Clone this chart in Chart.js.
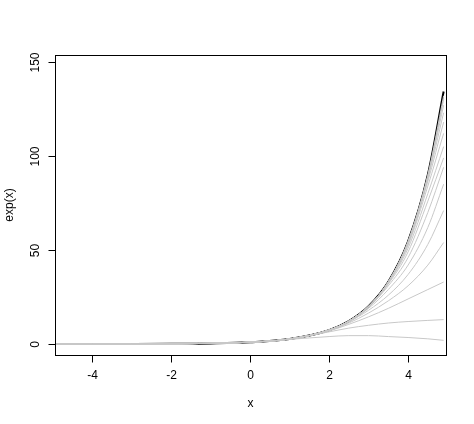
<!DOCTYPE html>
<html>
<head>
<script src="https://cdn.jsdelivr.net/npm/chart.js@4"></script>
<style>body{margin:0;background:#fff}#wrap{width:474px;height:424px}</style>
</head>
<body>
<div id="wrap"><canvas id="c"></canvas></div>
<script>
// x positions sampled along the curves
var xs = [-5, -4, -3, -2, -1, 0, 1, 2, 2.5, 3, 3.5, 4, 4.5, 4.9];
var expY = [0.01, 0.02, 0.05, 0.14, 0.37, 1, 2.72, 7.39, 12.2, 20.1, 33.1, 54.6, 90, 134.3];
// grey approximations
var grey = [
  [0, 0, 0, 0.1, 0.4, 1, 2.5, 4, 4.5, 4.5, 4, 3.5, 2.8, 2],
  [0, 0, 0, 0.1, 0.4, 1, 2.7, 6.5, 8.5, 10, 11.2, 12, 12.6, 13],
  [0, 0, 0, 0.1, 0.4, 1, 2.7, 7, 10.5, 14.5, 19, 24, 29, 33],
  [0, 0, 0, 0.1, 0.4, 1, 2.7, 7.2, 11.2, 16.5, 23, 31, 42, 54],
  [0, 0, 0, 0.1, 0.4, 1, 2.7, 7.3, 11.8, 18, 26, 37, 53, 71],
  [0, 0, 0, 0.1, 0.4, 1, 2.7, 7.4, 12, 19, 29, 42, 62, 85],
  [0, 0, 0, 0.1, 0.4, 1, 2.7, 7.4, 12.1, 19.5, 31, 46, 70, 94],
  [0, 0, 0, 0.1, 0.4, 1, 2.7, 7.4, 12.2, 19.8, 32, 49, 76, 99],
  [0, 0, 0, 0.1, 0.4, 1, 2.7, 7.4, 12.2, 19.9, 32.5, 51, 80, 105],
  [0, 0, 0, 0.1, 0.4, 1, 2.7, 7.4, 12.2, 20, 32.8, 52.5, 84, 112],
  [0, 0, 0, 0.1, 0.4, 1, 2.7, 7.4, 12.2, 20, 33, 53.5, 86.5, 118],
  [0, 0, 0, 0.1, 0.4, 1, 2.7, 7.4, 12.2, 20.1, 33, 54, 88, 123],
  [0, 0, 0, 0.1, 0.4, 1, 2.7, 7.4, 12.2, 20.1, 33.1, 54.3, 89, 127],
  [0, 0, 0, 0.1, 0.4, 1, 2.7, 7.4, 12.2, 20.1, 33.1, 54.5, 89.5, 130],
  [0, 0, 0, 0.1, 0.4, 1, 2.7, 7.4, 12.2, 20.1, 33.1, 54.6, 89.8, 132]
];
var xTicks = [-4, -2, 0, 2, 4];
var yTicks = [0, 50, 100, 150];

function pts(ys) {
  return xs.map(function (x, i) { return {x: x, y: ys[i]}; });
}

var datasets = grey.map(function (g) {
  return {data: pts(g), borderColor: '#c8c8c8', borderWidth: 1};
});
datasets.push({data: pts(expY), borderColor: '#000', borderWidth: 2});

var rAxes = {
  id: 'rAxes',
  afterDraw: function (chart) {
    var c = chart.ctx, a = chart.chartArea;
    var xs_ = chart.scales.x, ys_ = chart.scales.y;
    c.save();
    c.strokeStyle = '#000';
    c.lineWidth = 1;
    c.strokeRect(a.left + 0.5, a.top + 0.5, a.right - a.left, a.bottom - a.top);
    c.fillStyle = '#000';
    c.font = '12px "Liberation Sans", Arial';
    // x axis
    var y0 = a.bottom + 0.5;
    c.beginPath();
    c.moveTo(xs_.getPixelForValue(xTicks[0]), y0);
    c.lineTo(xs_.getPixelForValue(xTicks[xTicks.length - 1]), y0);
    c.textAlign = 'center';
    c.textBaseline = 'middle';
    xTicks.forEach(function (t) {
      var p = Math.round(xs_.getPixelForValue(t)) + 0.5;
      c.moveTo(p, y0);
      c.lineTo(p, y0 + 7);
      c.fillText(String(t), p, a.bottom + 21);
    });
    c.stroke();
    c.fillText('x', (a.left + a.right) / 2, a.bottom + 49);
    // y axis
    var x0 = a.left + 0.5;
    c.beginPath();
    c.moveTo(x0, ys_.getPixelForValue(yTicks[0]));
    c.lineTo(x0, ys_.getPixelForValue(yTicks[yTicks.length - 1]));
    yTicks.forEach(function (t) {
      var p = Math.round(ys_.getPixelForValue(t)) + 0.5;
      c.moveTo(x0, p);
      c.lineTo(x0 - 7, p);
      c.save();
      c.translate(a.left - 19, p);
      c.rotate(-Math.PI / 2);
      c.fillText(String(t), 0, 0);
      c.restore();
    });
    c.stroke();
    c.save();
    c.translate(10, (a.top + a.bottom) / 2);
    c.rotate(-Math.PI / 2);
    c.fillText('exp(x)', 0, 0);
    c.restore();
    c.restore();
  }
};

new Chart(document.getElementById('c'), {
  type: 'scatter',
  data: {datasets: datasets},
  plugins: [rAxes],
  options: {
    responsive: true,
    maintainAspectRatio: false,
    animation: false,
    showLine: true,
    elements: {point: {radius: 0}, line: {cubicInterpolationMode: 'monotone'}},
    layout: {padding: {top: 55, right: 28, left: 0, bottom: 0}},
    plugins: {legend: {display: false}, tooltip: {enabled: false}},
    scales: {
      x: {
        type: 'linear', min: -4.94, max: 4.96,
        grid: {display: false}, border: {display: false},
        ticks: {display: false},
        afterFit: function (s) { s.height = 69; }
      },
      y: {
        type: 'linear', min: -5.8, max: 153.7,
        grid: {display: false}, border: {display: false},
        ticks: {display: false},
        afterFit: function (s) { s.width = 55; }
      }
    }
  }
});
</script>
</body>
</html>
